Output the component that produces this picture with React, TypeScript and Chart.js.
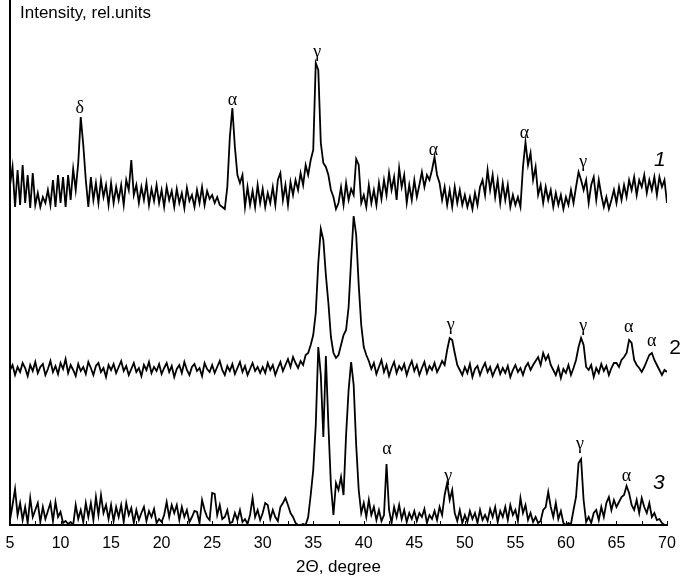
import { useEffect, useRef } from "react";
import { Chart, registerables } from "chart.js";

Chart.register(...registerables);

// 2θ grid, degrees (0.25° step from 5 to 70)
const twoTheta: number[] = Array.from({ length: 261 }, (_, i) => 5 + i * 0.25);

// Diffraction patterns (intensity, rel. units, already stacked with offsets)
const pattern1: number[] = [
  340, 358, 318, 355, 320, 360, 322, 350, 317, 352, 320, 332, 318, 328, 322, 335, 320, 345, 318, 350,
  322, 348, 318, 350, 325, 356, 335, 362, 408, 380, 345, 318, 348, 325, 342, 322, 345, 328, 340, 320,
  342, 322, 338, 325, 340, 320, 345, 335, 365, 330, 340, 322, 338, 325, 342, 320, 336, 324, 340, 322,
  335, 318, 338, 325, 334, 318, 336, 322, 332, 317, 337, 324, 330, 318, 335, 322, 338, 320, 334, 326,
  330, 322, 328, 320, 318, 316, 338, 388, 417, 378, 350, 342, 350, 318, 338, 320, 334, 318, 340, 322,
  336, 318, 332, 322, 338, 320, 345, 352, 325, 340, 320, 343, 330, 345, 335, 352, 340, 360, 350, 365,
  375, 462, 455, 382, 362, 358, 350, 335, 328, 316, 322, 338, 320, 342, 325, 336, 330, 366, 360, 322,
  330, 318, 340, 322, 335, 320, 342, 326, 345, 330, 352, 335, 348, 325, 357, 338, 350, 322, 340, 325,
  345, 328, 340, 353, 338, 350, 345, 355, 368, 350, 342, 325, 338, 320, 335, 318, 338, 322, 335, 320,
  330, 318, 328, 316, 332, 320, 338, 345, 330, 355, 335, 350, 328, 345, 322, 342, 325, 340, 318, 330,
  320, 328, 318, 358, 383, 360, 372, 345, 358, 330, 340, 322, 338, 325, 335, 318, 332, 320, 330, 316,
  328, 320, 335, 322, 338, 353, 345, 335, 345, 322, 340, 348, 325, 345, 330, 318, 328, 316, 325, 335,
  322, 338, 325, 340, 328, 345, 335, 348, 330, 345, 338, 350, 332, 345, 335, 348, 330, 348, 338, 345,
  322,
];

const pattern2: number[] = [
  155, 160, 150, 158, 153, 162, 157, 149, 160, 154, 163, 152, 158, 161, 150, 156, 164, 153, 159, 151,
  162, 156, 166, 152, 160, 155, 149, 161, 154, 158, 151, 163, 157, 150, 159, 162, 153, 157, 148, 160,
  155, 161, 152, 158, 164, 154, 159, 150, 156, 162, 153, 157, 149, 160, 155, 163, 152, 158, 154, 161,
  151, 157, 162, 153, 159, 148, 156, 160, 152, 163, 155, 150, 158, 161, 154, 157, 149, 162, 156, 153,
  160, 152, 158, 164, 155, 150, 159, 154, 161, 151, 157, 163, 153, 159, 150, 156, 162, 154, 158, 152,
  158, 152, 162, 155, 160, 150, 157, 163, 154, 160, 166, 158, 168, 162, 157, 164, 160, 170, 172, 180,
  190, 212, 262, 296, 285, 250, 222, 188, 172, 167, 170, 180, 190, 195, 218, 265, 309, 290, 240, 200,
  178, 170, 164, 156, 162, 151, 158, 165, 153, 160, 149, 157, 163, 152, 159, 155, 161, 150, 158, 164,
  154, 160, 150, 157, 163, 152, 159, 155, 162, 153, 158, 164, 160, 175, 187, 185, 172, 160, 155, 150,
  158, 152, 161, 148, 156, 159, 150, 157, 162, 153, 158, 149, 155, 160, 151, 157, 152, 159, 148, 155,
  160, 153, 157, 150, 158, 162, 155, 160, 164, 168, 160, 172, 165, 170, 160, 155, 150, 158, 147, 156,
  152, 160, 150, 157, 165, 178, 187, 180, 158, 155, 160, 148, 157, 152, 161, 154, 159, 150, 157, 162,
  162, 158, 165, 168, 172, 185, 182, 165, 160, 157, 153, 158, 164, 170, 172, 165, 160, 155, 150, 155,
  153,
];

const pattern3: number[] = [
  5, 20, 36, 10, 22, 5, 18, 2, 27, 8, 15, 22, 3, 18, 6, 14, 22, 4, 23, 8,
  13, 2, 4, 1, 3, 0, 20, 6, 15, 3, 22, 8, 22, 5, 28, 10, 30, 12, 20, 6,
  20, 4, 18, 8, 20, 3, 22, 10, 17, 2, 15, 5, 12, 18, 4, 14, 8, 16, 2, 6,
  3, 10, 23, 8, 20, 12, 20, 5, 18, 8, 15, 3, 8, 14, 13, 2, 25, 15, 8, 5,
  32, 31, 10, 20, 6, 8, 15, 2, 3, 12, 5, 15, 3, 6, 1, 10, 27, 8, 15, 5,
  12, 22, 20, 6, 15, 8, 4, 18, 22, 27, 20, 12, 8, 2, 0, 0, 1, 0, 8, 30,
  55, 100, 178, 150, 88, 169, 100, 40, 10, 42, 35, 48, 30, 90, 135, 163, 140, 80, 35, 12,
  22, 8, 25, 10, 18, 5, 15, 4, 10, 61, 15, 2, 18, 8, 20, 6, 15, 3, 12, 6,
  14, 4, 12, 8, 16, 2, 10, 6, 14, 5, 18, 10, 30, 42, 25, 35, 12, 4, 15, 2,
  10, 3, 14, 6, 12, 2, 15, 5, 10, 4, 16, 8, 18, 3, 14, 8, 18, 5, 20, 10,
  15, 4, 27, 12, 20, 5, 12, 3, 8, 2, 4, 15, 18, 33, 18, 8, 22, 6, 14, 2,
  0, 2, 1, 15, 28, 62, 66, 25, 3, 8, 2, 12, 15, 5, 18, 8, 22, 28, 15, 25,
  18, 23, 28, 30, 39, 32, 20, 15, 25, 12, 27, 18, 12, 22, 8, 12, 5, 6, 2, 0,
  0,
];

// Phase labels over peaks
const peakText: string[] = ["δ", "α", "γ", "α", "α", "γ", "γ", "γ", "α", "α", "α", "γ", "γ", "α"];
const peakX: number[] = [11.9, 27.0, 35.4, 46.9, 55.9, 61.7, 48.6, 61.7, 66.2, 68.5, 42.3, 48.35, 61.4, 66.0];
const peakY: number[] = [417, 425, 473, 375, 392, 363, 200, 199, 198, 184, 76, 49, 81, 49];

// Curve numbers
const curveText: string[] = ["1", "2", "3"];
const curveX: number[] = [69.3, 70.8, 69.2];
const curveY: number[] = [365, 177, 42];
const curveItalic: boolean[] = [true, false, true];

const xTickStep = 5;
const yTitle = "Intensity, rel.units";
const xTitle = "2Θ, degree";

const SANS = "'Liberation Sans', Arial, sans-serif";

const labelPlugin = {
  id: "xrdLabels",
  afterDraw(chart: any) {
    const { ctx, chartArea, scales } = chart;
    const xs = scales.x;
    const ys = scales.y;
    ctx.save();
    // inner minor/major ticks on x axis
    ctx.strokeStyle = "#000";
    ctx.lineWidth = 1;
    for (let v = 5; v <= 70; v += 2.5) {
      const px = Math.round(xs.getPixelForValue(v)) + 0.5;
      ctx.beginPath();
      ctx.moveTo(px, chartArea.bottom);
      ctx.lineTo(px, chartArea.bottom - 4);
      ctx.stroke();
    }
    ctx.fillStyle = "#000";
    ctx.textAlign = "center";
    ctx.textBaseline = "middle";
    ctx.font = "18px 'Liberation Serif', 'DejaVu Serif', serif";
    peakText.forEach((t, i) => {
      ctx.fillText(t, xs.getPixelForValue(peakX[i]), ys.getPixelForValue(peakY[i]));
    });
    curveText.forEach((t, i) => {
      ctx.font = (curveItalic[i] ? "italic " : "") + "21px " + SANS;
      ctx.fillText(t, xs.getPixelForValue(curveX[i]), ys.getPixelForValue(curveY[i]));
    });
    ctx.textAlign = "left";
    ctx.font = "17px " + SANS;
    ctx.fillText(yTitle, chartArea.left + 10, 13);
    ctx.restore();
  },
};

export default function App() {
  const ref = useRef<HTMLCanvasElement | null>(null);
  useEffect(() => {
    document.body.style.margin = "0";
    const canvas = ref.current;
    if (!canvas) return;
    const mk = (vals: number[]) => vals.map((y, i) => ({ x: twoTheta[i], y }));
    const ds = (vals: number[]) => ({
      data: mk(vals),
      borderColor: "#000",
      borderWidth: 1.8,
      pointRadius: 0,
      tension: 0,
      fill: false,
    });
    const chart = new Chart(canvas, {
      type: "line",
      data: { datasets: [ds(pattern1), ds(pattern2), ds(pattern3)] },
      options: {
        animation: false,
        responsive: false,
        devicePixelRatio: 1,
        layout: { padding: { left: 10, right: 18, top: 0, bottom: 0 } },
        plugins: { legend: { display: false }, tooltip: { enabled: false } },
        scales: {
          x: {
            type: "linear",
            min: 5,
            max: 70,
            grid: { display: false, drawTicks: false },
            border: { display: true, color: "#000", width: 2 },
            ticks: {
              stepSize: xTickStep,
              color: "#000",
              padding: 9,
              maxRotation: 0,
              font: { family: SANS, size: 16 },
            },
            title: {
              display: true,
              text: xTitle,
              color: "#000",
              padding: { top: 0, bottom: 5 },
              font: { family: SANS, size: 17, lineHeight: 1.1 },
            },
            afterFit: (scale: any) => {
              scale.height = 57;
              scale.paddingLeft = 0;
              scale.paddingRight = 0;
            },
          },
          y: {
            type: "linear",
            min: 0,
            max: 525,
            grid: { display: false, drawTicks: false },
            border: { display: true, color: "#000", width: 2 },
            ticks: { display: false },
            afterFit: (scale: any) => {
              scale.width = 0;
              scale.paddingTop = 0;
              scale.paddingBottom = 0;
            },
          },
        },
      },
      plugins: [labelPlugin],
    });
    return () => chart.destroy();
  }, []);
  return <canvas ref={ref} width={685} height={582} style={{ display: "block" }} />;
}
